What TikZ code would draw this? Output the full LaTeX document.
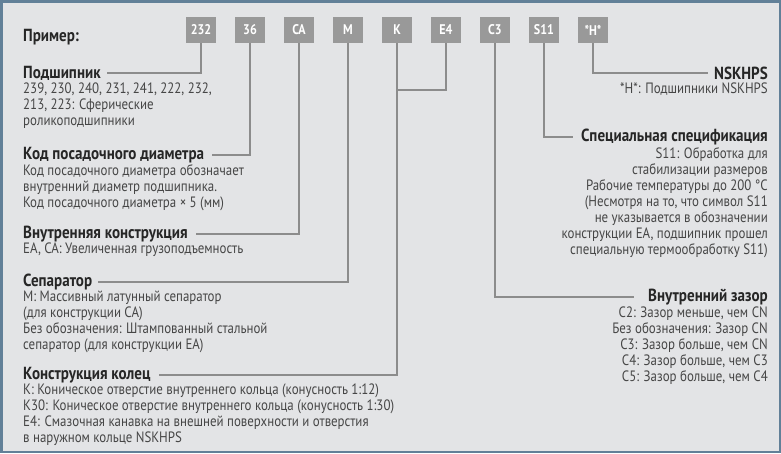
\documentclass[tikz,border=0pt]{standalone}
\usepackage{fontspec}
\setmainfont[FakeStretch=0.86]{PT Sans}
\usetikzlibrary{positioning}
\definecolor{bgColor}{RGB}{227,228,230}
\definecolor{frameColor}{RGB}{98,128,152}
\definecolor{boxColor}{RGB}{153,153,153}
\definecolor{lineColor}{RGB}{140,140,140}
\definecolor{textColor}{RGB}{70,70,70}
\tikzset{
  codeBox/.style={fill=boxColor, text=white, font=\fontsize{14}{14}\selectfont\bfseries, minimum width=30, minimum height=26, inner sep=0},
  headText/.style={font=\fontsize{17.5}{18}\selectfont\bfseries, text=black!85, inner xsep=0, inner ysep=1},
  bodyText/.style={font=\fontsize{15}{16}\selectfont, text=textColor, inner sep=0},
  leadLine/.style={draw=lineColor, line width=1.1pt}
}
\begin{document}
\begin{tikzpicture}[x=1pt, y=-1pt]
  \fill[bgColor] (0,0) rectangle (781,453);
  \draw[frameColor, line width=2.5pt] (1.25,1.25) rectangle (779.75,451.75);
  \useasboundingbox (0,0) rectangle (781,453);

  \node[headText, anchor=west] (example) at (23,37) {Пример:};
  % code boxes
  \foreach \name/\code [count=\i from 0] in {b232/232, b36/36, bCA/CA, bM/M, bK/K, bE4/E4, bC3/C3, bS11/S11, bH/*H*}
    \node[codeBox] (\name) at (201 + 49*\i, 30) {\code};

  % left blocks
  \node[headText, anchor=west] (hBear) at (23,73) {Подшипник};
  \node[bodyText, anchor=north west, align=left] (tBear) at (23,83) {239, 230, 240, 231, 241, 222, 232,\\213, 223: Сферические\\роликоподшипники};
  \node[headText, anchor=west] (hBore) at (23,155) {Код посадочного диаметра};
  \node[bodyText, anchor=north west, align=left] (tBore) at (23,164) {Код посадочного диаметра обозначает\\внутренний диаметр подшипника.\\Код посадочного диаметра × 5 (мм)};
  \node[headText, anchor=west] (hInner) at (23,234) {Внутренняя конструкция};
  \node[bodyText, anchor=north west, align=left] (tInner) at (23,243) {EA, CA: Увеличенная грузоподъемность};
  \node[headText, anchor=west] (hCage) at (23,282) {Сепаратор};
  \node[bodyText, anchor=north west, align=left] (tCage) at (23,291) {M: Массивный латунный сепаратор\\(для конструкции CA)\\Без обозначения: Штампованный стальной\\сепаратор (для конструкции EA)};
  \node[headText, anchor=west] (hRing) at (23,375) {Конструкция колец};
  \node[bodyText, anchor=north west, align=left] (tRing) at (23,384) {K: Коническое отверстие внутреннего кольца (конусность 1:12)\\K30: Коническое отверстие внутреннего кольца (конусность 1:30)\\E4: Смазочная канавка на внешней поверхности и отверстия\\в наружном кольце NSKHPS};

  % right blocks
  \node[headText, anchor=east] (hHps) at (768,73) {NSKHPS};
  \node[bodyText, anchor=north east, align=right] (tHps) at (768,83) {*H*: Подшипники NSKHPS};
  \node[headText, anchor=east] (hSpec) at (768,137) {Специальная спецификация};
  \node[bodyText, anchor=north east, align=right] (tSpec) at (768,147) {S11: Обработка для\\стабилизации размеров\\Рабочие температуры до 200 °C\\(Несмотря на то, что символ S11\\не указывается в обозначении\\конструкции EA, подшипник прошел\\специальную термообработку S11)};
  \node[headText, anchor=east] (hClear) at (768,297) {Внутренний зазор};
  \node[bodyText, anchor=north east, align=right] (tClear) at (768,307) {C2: Зазор меньше, чем CN\\Без обозначения: Зазор CN\\C3: Зазор больше, чем CN\\C4: Зазор больше, чем C3\\C5: Зазор больше, чем C4};

  % leader lines
  \coordinate (kJoin) at (396,90);
  \draw[leadLine] (b232.south) |- ([xshift=6]hBear.east);
  \draw[leadLine] (b36.south) |- ([xshift=8]hBore.east);
  \draw[leadLine] (bCA.south) |- ([xshift=8]hInner.east);
  \draw[leadLine] (bM.south) |- ([xshift=6]hCage.east);
  \draw[leadLine] (bK.south) |- ([xshift=8]hRing.east);
  \draw[leadLine] (bE4.south) |- (kJoin);
  \draw[leadLine] (bC3.south) |- ([xshift=-14]hClear.west);
  \draw[leadLine] (bS11.south) |- ([xshift=-8]hSpec.west);
  \draw[leadLine] (bH.south) |- ([xshift=-6]hHps.west);
\end{tikzpicture}
\end{document}
